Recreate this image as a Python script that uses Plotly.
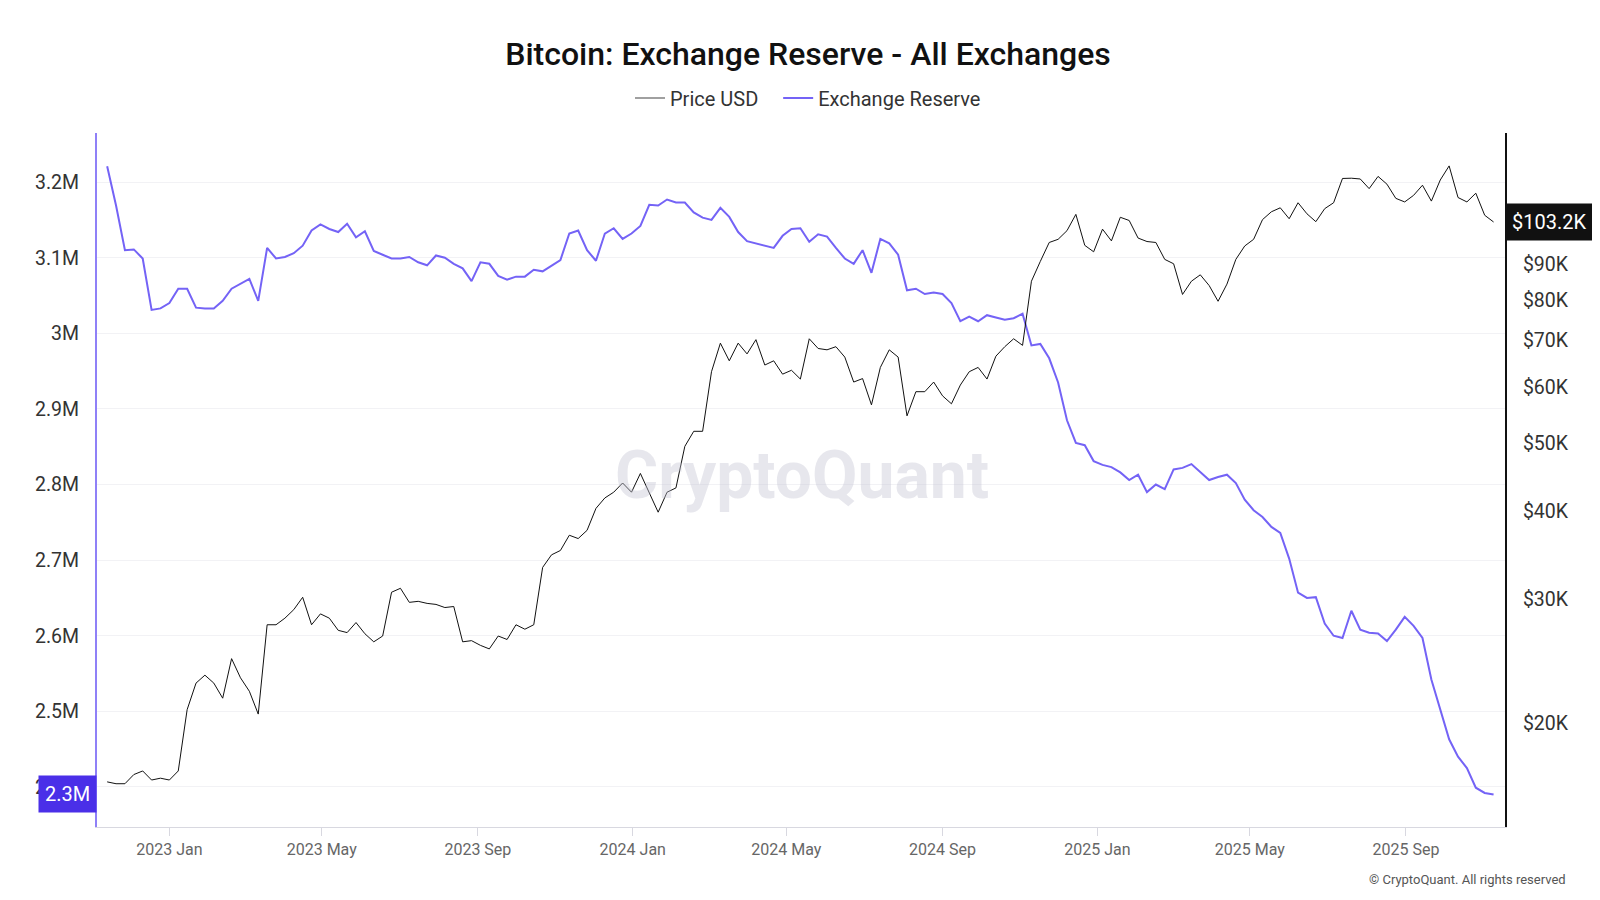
import math
import pandas as pd
import plotly.graph_objects as go

# Weekly samples, Nov 2022 - Nov 2025
dates = pd.date_range("2022-11-13", periods=157, freq="7D")

# Exchange reserve, millions of BTC
reserve_m = [
    3.221, 3.169, 3.110, 3.111, 3.099, 3.031, 3.033, 3.040, 3.059, 3.059,
    3.034, 3.033, 3.033, 3.043, 3.059, 3.065, 3.072, 3.043, 3.113, 3.099,
    3.101, 3.106, 3.116, 3.136, 3.144, 3.138, 3.134, 3.145, 3.127, 3.135,
    3.109, 3.104, 3.099, 3.099, 3.101, 3.094, 3.090, 3.103, 3.100, 3.092,
    3.086, 3.069, 3.094, 3.092, 3.076, 3.071, 3.075, 3.075, 3.084, 3.082,
    3.090, 3.097, 3.132, 3.136, 3.110, 3.096, 3.132, 3.139, 3.125, 3.132,
    3.142, 3.170, 3.169, 3.177, 3.173, 3.173, 3.160, 3.153, 3.150, 3.166,
    3.154, 3.134, 3.122, 3.119, 3.116, 3.113, 3.129, 3.138, 3.139, 3.121,
    3.131, 3.128, 3.113, 3.099, 3.092, 3.110, 3.080, 3.125, 3.119, 3.104,
    3.057, 3.059, 3.052, 3.054, 3.052, 3.040, 3.016, 3.022, 3.016, 3.024,
    3.021, 3.018, 3.020, 3.026, 2.984, 2.986, 2.967, 2.935, 2.885, 2.855,
    2.852, 2.831, 2.826, 2.823, 2.816, 2.806, 2.813, 2.790, 2.800, 2.794,
    2.820, 2.822, 2.827, 2.816, 2.806, 2.810, 2.813, 2.802, 2.780, 2.766,
    2.757, 2.744, 2.736, 2.702, 2.657, 2.650, 2.651, 2.616, 2.600, 2.597,
    2.633, 2.608, 2.604, 2.603, 2.593, 2.608, 2.625, 2.613, 2.597, 2.542,
    2.504, 2.463, 2.440, 2.425, 2.399, 2.392, 2.390,
]

# BTC price, thousands of USD
price_k = [
    16.5, 16.4, 16.4, 16.9, 17.1, 16.6, 16.7, 16.6, 17.1, 20.9,
    22.8, 23.4, 22.8, 21.7, 24.7, 23.2, 22.2, 20.6, 27.6, 27.6,
    28.2, 29.0, 30.2, 27.6, 28.6, 28.2, 27.1, 26.9, 27.8, 26.8,
    26.1, 26.6, 30.7, 31.1, 29.7, 29.8, 29.6, 29.5, 29.2, 29.3,
    26.1, 26.2, 25.8, 25.5, 26.6, 26.3, 27.6, 27.2, 27.6, 33.3,
    34.7, 35.2, 37.0, 36.6, 37.6, 40.4, 41.8, 42.6, 43.9, 42.6,
    45.3, 42.4, 39.9, 42.6, 43.2, 49.5, 52.0, 52.0, 63.2, 69.4,
    65.5, 69.4, 67.0, 70.2, 64.6, 65.5, 62.7, 63.5, 61.7, 70.4,
    68.2, 67.9, 68.6, 66.3, 61.1, 61.8, 56.7, 64.1, 67.9, 66.3,
    54.7, 59.2, 59.2, 61.1, 58.4, 56.9, 60.5, 63.2, 64.1, 61.7,
    66.5, 68.6, 70.4, 68.9, 85.0, 90.7, 96.5, 97.5, 100.3, 105.8,
    95.6, 93.6, 100.8, 97.0, 104.8, 103.7, 97.9, 96.8, 96.5, 91.3,
    90.0, 81.4, 85.0, 86.8, 83.8, 79.6, 84.2, 91.3, 95.4, 97.5,
    104.0, 106.7, 108.1, 104.3, 109.9, 106.0, 103.3, 107.8, 109.9, 119.0,
    119.1, 118.8, 115.1, 119.8, 116.8, 111.5, 110.2, 112.6, 116.4, 110.5,
    118.4, 124.0, 111.8, 110.2, 113.4, 105.5, 103.2,
]

price_ticks = [20, 30, 40, 50, 60, 70, 80, 90, 100]
price_tick_labels = ["$20K", "$30K", "$40K", "$50K", "$60K", "$70K", "$80K", "$90K", "$100K"]

last_price_label = "$103.2K"
last_reserve_label = "2.3M"

PURPLE = "#7463f6"
FONT = "Roboto"
NBSP = "\u00a0"

fig = go.Figure()

fig.add_trace(go.Scatter(
    x=dates, y=[v * 1e6 for v in reserve_m], yaxis="y",
    mode="lines", line=dict(color=PURPLE, width=2),
    name="Exchange Reserve", showlegend=False, hoverinfo="skip"))
fig.add_trace(go.Scatter(
    x=dates, y=[v * 1000 for v in price_k], yaxis="y2",
    mode="lines", line=dict(color="#111111", width=1),
    name="Price USD", showlegend=False, hoverinfo="skip"))

# legend entries (price shown grey in the legend)
fig.add_trace(go.Scatter(x=[None], y=[None], mode="lines", name="Price USD" + NBSP * 3,
                         line=dict(color="#a0a0a0", width=2)))
fig.add_trace(go.Scatter(x=[None], y=[None], mode="lines", name="Exchange Reserve",
                         line=dict(color=PURPLE, width=2)))

fig.update_layout(
    width=1600, height=900,
    paper_bgcolor="white", plot_bgcolor="white",
    margin=dict(l=89, r=103, t=125, b=81),
    font=dict(family=FONT, color="#333333"),
    title=dict(text="Bitcoin: Exchange Reserve - All Exchanges",
               x=0.5, xref="container", xanchor="center",
               y=0.949, yref="container", yanchor="middle",
               font=dict(family=FONT, size=32, color="#111111", weight=500)),
    legend=dict(orientation="h", x=0.5, xref="container", xanchor="center",
                y=0.9, yref="container", yanchor="middle",
                font=dict(size=20, color="#333333"), itemwidth=30,
                traceorder="normal"),
    xaxis=dict(range=["2022-11-05", "2025-11-18"], tick0="2023-01-01", dtick="M4",
               tickformat="%Y %b", showgrid=False, zeroline=False,
               showline=True, linecolor="#d8d8e0", linewidth=1,
               ticks="outside", ticklen=8, tickcolor="#d8d8e0",
               tickfont=dict(size=16, color="#666666")),
    yaxis=dict(range=[2.347e6, 3.265e6], dtick=1e5, tickformat="~s",
               showline=True, linecolor="#8f80f7", linewidth=2,
               showgrid=True, gridcolor="#f2f2f5", zeroline=False,
               ticklabelstandoff=12, tickfont=dict(size=19.5, color="#333333")),
    yaxis2=dict(type="log", overlaying="y", side="right",
                range=[4.1533, 5.1402],
                tickvals=[v * 1000 for v in price_ticks], ticktext=price_tick_labels,
                showline=True, linecolor="#111111", linewidth=2,
                showgrid=False, zeroline=False,
                ticklabelstandoff=12, tickfont=dict(size=19.5, color="#333333")),
)

# watermark
fig.add_annotation(text="CryptoQuant", xref="paper", yref="paper", x=0.5006, y=0.507,
                   showarrow=False, font=dict(family=FONT, size=66, color="rgba(195,195,210,0.4)",
                                              weight="bold"))

# current value tags
fig.add_annotation(text=last_price_label, xref="paper", x=1, xanchor="left",
                   yref="y2", y=math.log10(price_k[-1] * 1000), yanchor="middle",
                   showarrow=False, bgcolor="#111111", borderpad=6,
                   font=dict(family=FONT, size=20, color="white"))
fig.add_annotation(text=last_reserve_label, xref="paper", x=0, xanchor="right",
                   yref="y", y=reserve_m[-1] * 1e6, yanchor="middle",
                   showarrow=False, bgcolor="#4a2fe8", borderpad=6,
                   font=dict(family=FONT, size=20, color="white"))

# footer
fig.add_annotation(text="© CryptoQuant. All rights reserved", xref="paper", yref="paper",
                   x=1.0447, xanchor="right", y=-0.0758, yanchor="middle",
                   showarrow=False, font=dict(family=FONT, size=13, color="#555555"))

fig.write_html("out.html")
